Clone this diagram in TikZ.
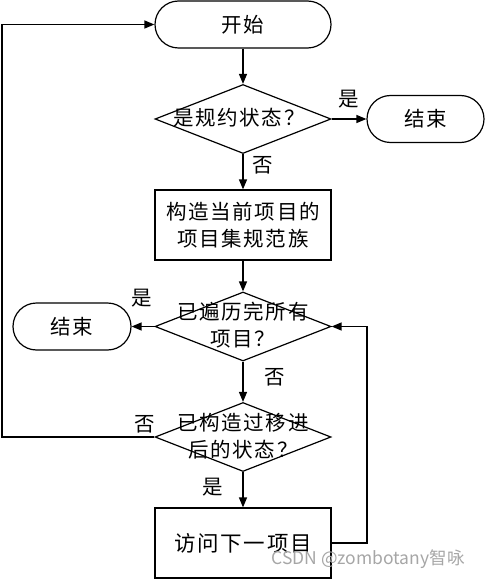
\documentclass[tikz,border=0pt]{standalone}
\usepackage{fontspec}
\newfontfamily\cjk[LetterSpace=8]{Noto Sans CJK SC}
\newfontfamily\cjkwm{Noto Sans CJK SC}
\usetikzlibrary{arrows.meta,shapes.geometric,shapes.misc}
\begin{document}
\begin{tikzpicture}[x=1pt,y=-1pt,
  every node/.style={font=\cjk\fontsize{20.5}{27.5}\selectfont},
  term/.style={draw,rounded rectangle,minimum height=47pt,inner sep=0pt,line width=1.2pt},
  proc/.style={draw,rectangle,minimum width=176pt,minimum height=70pt,inner sep=0pt,align=center,line width=1.2pt},
  dec/.style={draw,diamond,minimum width=176pt,minimum height=69pt,inner sep=0pt,line width=1.2pt},
  txt/.style={align=center,inner sep=0pt},
  lab/.style={inner sep=0pt},
  arr/.style={line width=1.3pt,-{Triangle[length=10pt,width=8pt]}},
  ln/.style={line width=1.3pt}]
\useasboundingbox (0,0) rectangle (486,580);
\node[term,minimum width=176pt] (s) at (243,24.5) {开始};
\node[dec] (d1) at (243,119) {};
\node[txt] (d1t) at (239,118) {是规约状态？};
\node[term,minimum width=117pt] (e1) at (425.5,119) {结束};
\node[proc] (b1) at (243,225) {构造当前项目的\\项目集规范族};
\node[dec] (d2) at (243,326.5) {};
\node[txt] (d2t) at (243,325) {已遍历完所有\\项目？};
\node[term,minimum width=118pt] (e2) at (72,326.5) {结束};
\node[dec] (d3) at (243,437) {};
\node[txt] (d3t) at (243,436) {已构造过移进\\后的状态？};
\node[proc] (b2) at (243,543) {\fontsize{21.5}{27.5}\selectfont 访问下一项目};
\node[lab] (l1) at (349,99) {是};
\node[lab] (l2) at (263,165) {否};
\node[lab] (l3) at (142,298) {是};
\node[lab] (l4) at (275,377) {否};
\node[lab] (l5) at (145,424) {否};
\node[lab] (l6) at (213,487) {是};
\node[inner sep=0pt,text=black!35,font=\cjkwm\fontsize{17.5}{20}\selectfont] (wm) at (368,559) {CSDN @zombotany智咏};
\draw[arr] (s.south) -- (d1.north);
\draw[arr] (d1.east) -- (e1.west);
\draw[arr] (d1.south) -- (b1.north);
\draw[arr] (b1.south) -- (d2.north);
\draw[arr] (d2.west) -- (e2.east);
\draw[arr] (d2.south) -- (d3.north);
\draw[arr] (d3.south) -- (b2.north);
\coordinate (L) at (2,437);
\draw[arr] (d3.west) -- (L) |- (s.west);
\coordinate (R) at (367,543);
\draw[arr] (b2.east) -- (R) |- (d2.east);
\end{tikzpicture}
\end{document}
